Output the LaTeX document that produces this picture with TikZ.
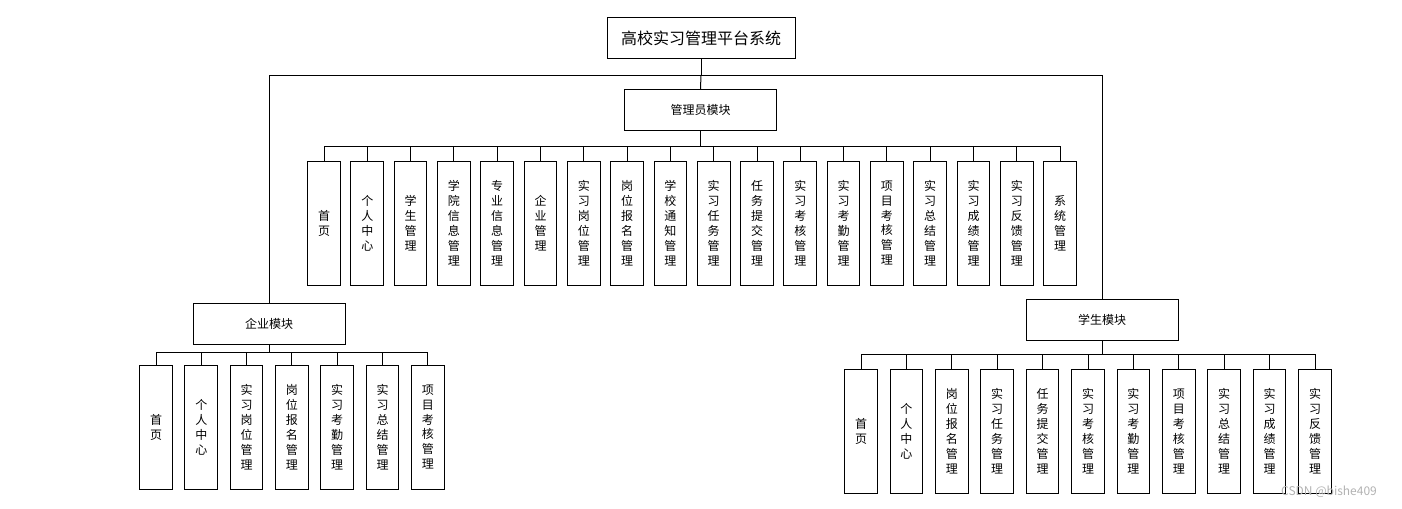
\documentclass[tikz,border=0pt]{standalone}
\usepackage{fontspec}
\newfontfamily\cjk{Noto Sans CJK SC}
\tikzset{every picture/.style={line width=0.75pt}}
\tikzset{
  modbox/.style={draw, minimum width=114pt, minimum height=31pt, font=\cjk\fontsize{9}{11}\selectfont},
  leafbox/.style={draw, minimum width=24.5pt, minimum height=93pt, align=center, font=\cjk\fontsize{9}{11.2}\selectfont},
}
\begin{document}
\begin{tikzpicture}[x=0.75pt,y=0.75pt,yscale=-1,xscale=1]
	\useasboundingbox (0,0) rectangle (1402,508);

	% Root and module boxes
	\node [modbox, minimum width=141pt, font=\cjk\fontsize{12}{14}\selectfont] (root) at (701,38) {高校实习管理平台系统};
	\node [modbox] (admin) at (700.5,110) {管理员模块};
	\node [modbox] (corp) at (269,324) {企业模块};
	\node [modbox] (stu) at (1102,320) {学生模块};

	\coordinate (split) at (701,75);
	\draw (root.south) -- (split);
	\draw (split) -- (admin.north);
	\draw (split) -| (corp.north);
	\draw (split) -| (stu.north);

	% Admin children
	\foreach \txt [count=\i] in {首\\页, 个\\人\\中\\心, 学\\生\\管\\理, 学\\院\\信\\息\\管\\理, 专\\业\\信\\息\\管\\理, 企\\业\\管\\理, 实\\习\\岗\\位\\管\\理, 岗\\位\\报\\名\\管\\理, 学\\校\\通\\知\\管\\理, 实\\习\\任\\务\\管\\理, 任\\务\\提\\交\\管\\理, 实\\习\\考\\核\\管\\理, 实\\习\\考\\勤\\管\\理, 项\\目\\考\\核\\管\\理, 实\\习\\总\\结\\管\\理, 实\\习\\成\\绩\\管\\理, 实\\习\\反\\馈\\管\\理, 系\\统\\管\\理}
	{
		\node [leafbox] (a\i) at ({324+(\i-1)*43.3},223) {\txt};
		\draw (admin.south) -- ++(0,15) -| (a\i.north);
	}

	% Enterprise children
	\foreach \txt [count=\i] in {首\\页, 个\\人\\中\\心, 实\\习\\岗\\位\\管\\理, 岗\\位\\报\\名\\管\\理, 实\\习\\考\\勤\\管\\理, 实\\习\\总\\结\\管\\理, 项\\目\\考\\核\\管\\理}
	{
		\node [leafbox] (c\i) at ({156+(\i-1)*45.3},427) {\txt};
		\draw (corp.south) -- ++(0,7) -| (c\i.north);
	}

	% Student children
	\foreach \txt [count=\i] in {首\\页, 个\\人\\中\\心, 岗\\位\\报\\名\\管\\理, 实\\习\\任\\务\\管\\理, 任\\务\\提\\交\\管\\理, 实\\习\\考\\核\\管\\理, 实\\习\\考\\勤\\管\\理, 项\\目\\考\\核\\管\\理, 实\\习\\总\\结\\管\\理, 实\\习\\成\\绩\\管\\理, 实\\习\\反\\馈\\管\\理}
	{
		\node [leafbox] (s\i) at ({861+(\i-1)*45.4},431.5) {\txt};
		\draw (stu.south) -- ++(0,13) -| (s\i.north);
	}

	% Watermark
	\node [text=gray!60, font=\fontsize{9}{11}\selectfont\cjk] (mark) at (1329,492) {CSDN @bishe409};

	\end{tikzpicture}
\end{document}
